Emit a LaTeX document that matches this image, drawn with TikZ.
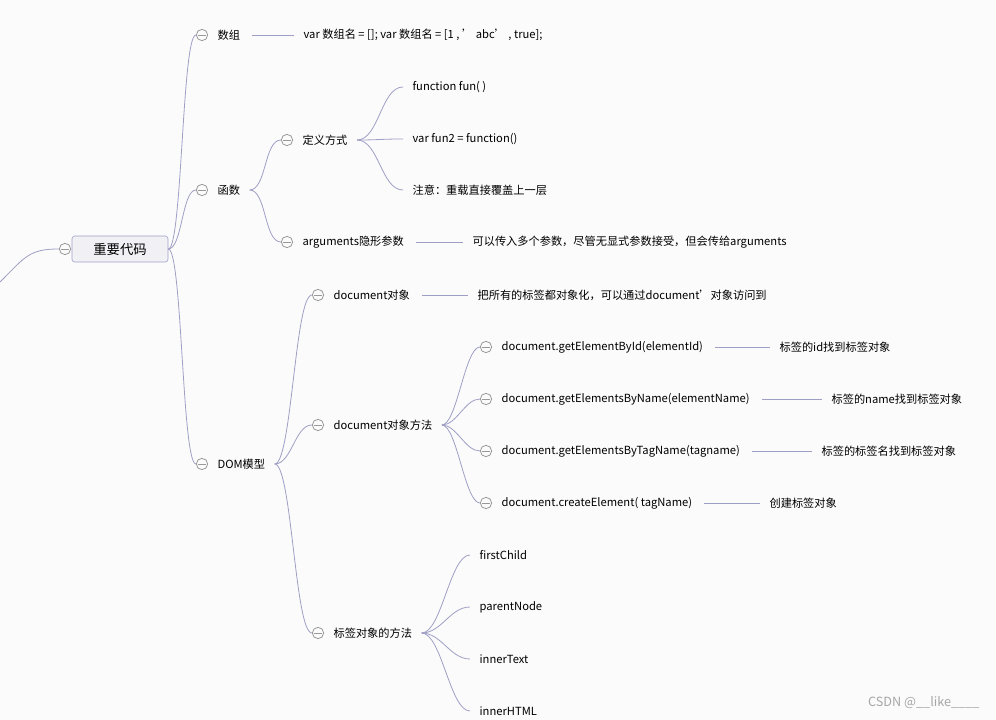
\documentclass[tikz,border=0pt]{standalone}
\usepackage{fontspec}
\setmainfont{Noto Sans CJK SC}
\usepackage{tikz}

\begin{document}
\begin{tikzpicture}[x=0.75pt,y=-0.75pt,
    every node/.append style={font=\fontsize{8.4}{10}\selectfont, inner sep=1pt},
    txt/.style={anchor=west},
    fold/.style={circle, draw=gray!80, line width=0.6pt, minimum size=8.5pt, inner sep=0pt,
      path picture={\draw[gray!80, line width=0.6pt] ([xshift=1.2pt]path picture bounding box.west) -- ([xshift=-1.2pt]path picture bounding box.east);}},
    link/.style={draw=blue!25!gray!60, line width=0.6pt}]
        \fill[gray!3] (0,0) rectangle (996,720);
        \useasboundingbox (0,0) rectangle (996,720);

        \node [draw=blue!25!gray!60, fill=blue!20!gray!10, rounded corners=2pt, minimum width=72pt, minimum height=19.5pt, font=\fontsize{10}{12}\selectfont] (R) at (120,249) {重要代码};
        \node [fold] (fR) at (65,249) {};
        \coordinate (L) at (0,282);

        % level 1
        \node [fold] (fA) at (202,35) {};
        \node [txt] (A) at (216,35) {数组};
        \node [txt] (Av) at (302,35) {var 数组名 = []; var 数组名 = [1 , ’ abc’ , true];};
        \node [fold] (fF) at (202,190) {};
        \node [txt] (F) at (216,190) {函数};
        \node [fold] (fD) at (202,464) {};
        \node [txt] (D) at (216,464) {DOM模型};

        % functions
        \node [fold] (fF1) at (287,140) {};
        \node [txt] (F1) at (301,140) {定义方式};
        \node [txt] (F1a) at (411,87) {function fun( ){ }};
        \node [txt] (F1b) at (411,139) {var fun2 = function(){ }};
        \node [txt] (F1c) at (411,190) {注意：重载直接覆盖上一层};
        \node [fold] (fF2) at (287,242) {};
        \node [txt] (F2) at (301,242) {arguments隐形参数};
        \node [txt] (F2v) at (471,242) {可以传入多个参数，尽管无显式参数接受，但会传给arguments};

        % DOM
        \node [fold] (fD1) at (318,295) {};
        \node [txt] (D1) at (332,295) {document对象};
        \node [txt] (D1v) at (476,295) {把所有的标签都对象化，可以通过document'对象访问到};
        \node [fold] (fD2) at (318,425) {};
        \node [txt] (D2) at (332,425) {document对象方法};
        \node [fold] (fD3) at (318,633) {};
        \node [txt] (D3) at (332,633) {标签对象的方法};

        \node [fold] (fM1) at (486,347) {};
        \node [txt] (M1) at (500,347) {document.getElementById(elementId)};
        \node [txt] (M1v) at (778,347) {标签的id找到标签对象};
        \node [fold] (fM2) at (486,399) {};
        \node [txt] (M2) at (500,399) {document.getElementsByName(elementName)};
        \node [txt] (M2v) at (830,399) {标签的name找到标签对象};
        \node [fold] (fM3) at (486,451) {};
        \node [txt] (M3) at (500,451) {document.getElementsByTagName(tagname)};
        \node [txt] (M3v) at (820,451) {标签的标签名找到标签对象};
        \node [fold] (fM4) at (486,503) {};
        \node [txt] (M4) at (500,503) {document.createElement( tagName)};
        \node [txt] (M4v) at (768,503) {创建标签对象};

        \node [txt] (T1) at (478,555) {firstChild};
        \node [txt] (T2) at (478,607) {parentNode};
        \node [txt] (T3) at (478,659) {innerText};
        \node [txt] (T4) at (478,711) {innerHTML};

        \node [anchor=east, text=gray!70, font=\fontsize{9.5}{11}\selectfont] (W) at (981,703) {CSDN @\_\_like\_\_\_\_};

        \draw [link] (L) .. controls +(25,-25) and +(-30,0) .. (fR.west);
        \foreach \c in {fA,fF,fD}
            \draw [link] (R.east) .. controls +(14,0) and +(-14,0) .. (\c.west);
        \draw [link] ([xshift=8pt]A.east) -- ([xshift=-6pt]Av.west);
        \foreach \c in {fF1,fF2}
            \draw [link] ([xshift=6pt]F.east) .. controls +(17,0) and +(-17,0) .. (\c.west);
        \foreach \c in {F1a,F1b,F1c}
            \draw [link] ([xshift=6pt]F1.east) .. controls +(22,0) and +(-22,0) .. ([xshift=-6pt]\c.west);
        \draw [link] ([xshift=8pt]F2.east) -- ([xshift=-6pt]F2v.west);
        \foreach \c in {fD1,fD2,fD3}
            \draw [link] ([xshift=6pt]D.east) .. controls +(17,0) and +(-17,0) .. (\c.west);
        \draw [link] ([xshift=8pt]D1.east) -- ([xshift=-6pt]D1v.west);
        \foreach \c in {fM1,fM2,fM3,fM4}
            \draw [link] ([xshift=6pt]D2.east) .. controls +(15,0) and +(-15,0) .. (\c.west);
        \foreach \m in {M1,M2,M3,M4}
            \draw [link] ([xshift=8pt]\m.east) -- ([xshift=-6pt]\m v.west);
        \foreach \c in {T1,T2,T3,T4}
            \draw [link] ([xshift=6pt]D3.east) .. controls +(20,0) and +(-20,0) .. ([xshift=-6pt]\c.west);
    \end{tikzpicture}
\end{document}
